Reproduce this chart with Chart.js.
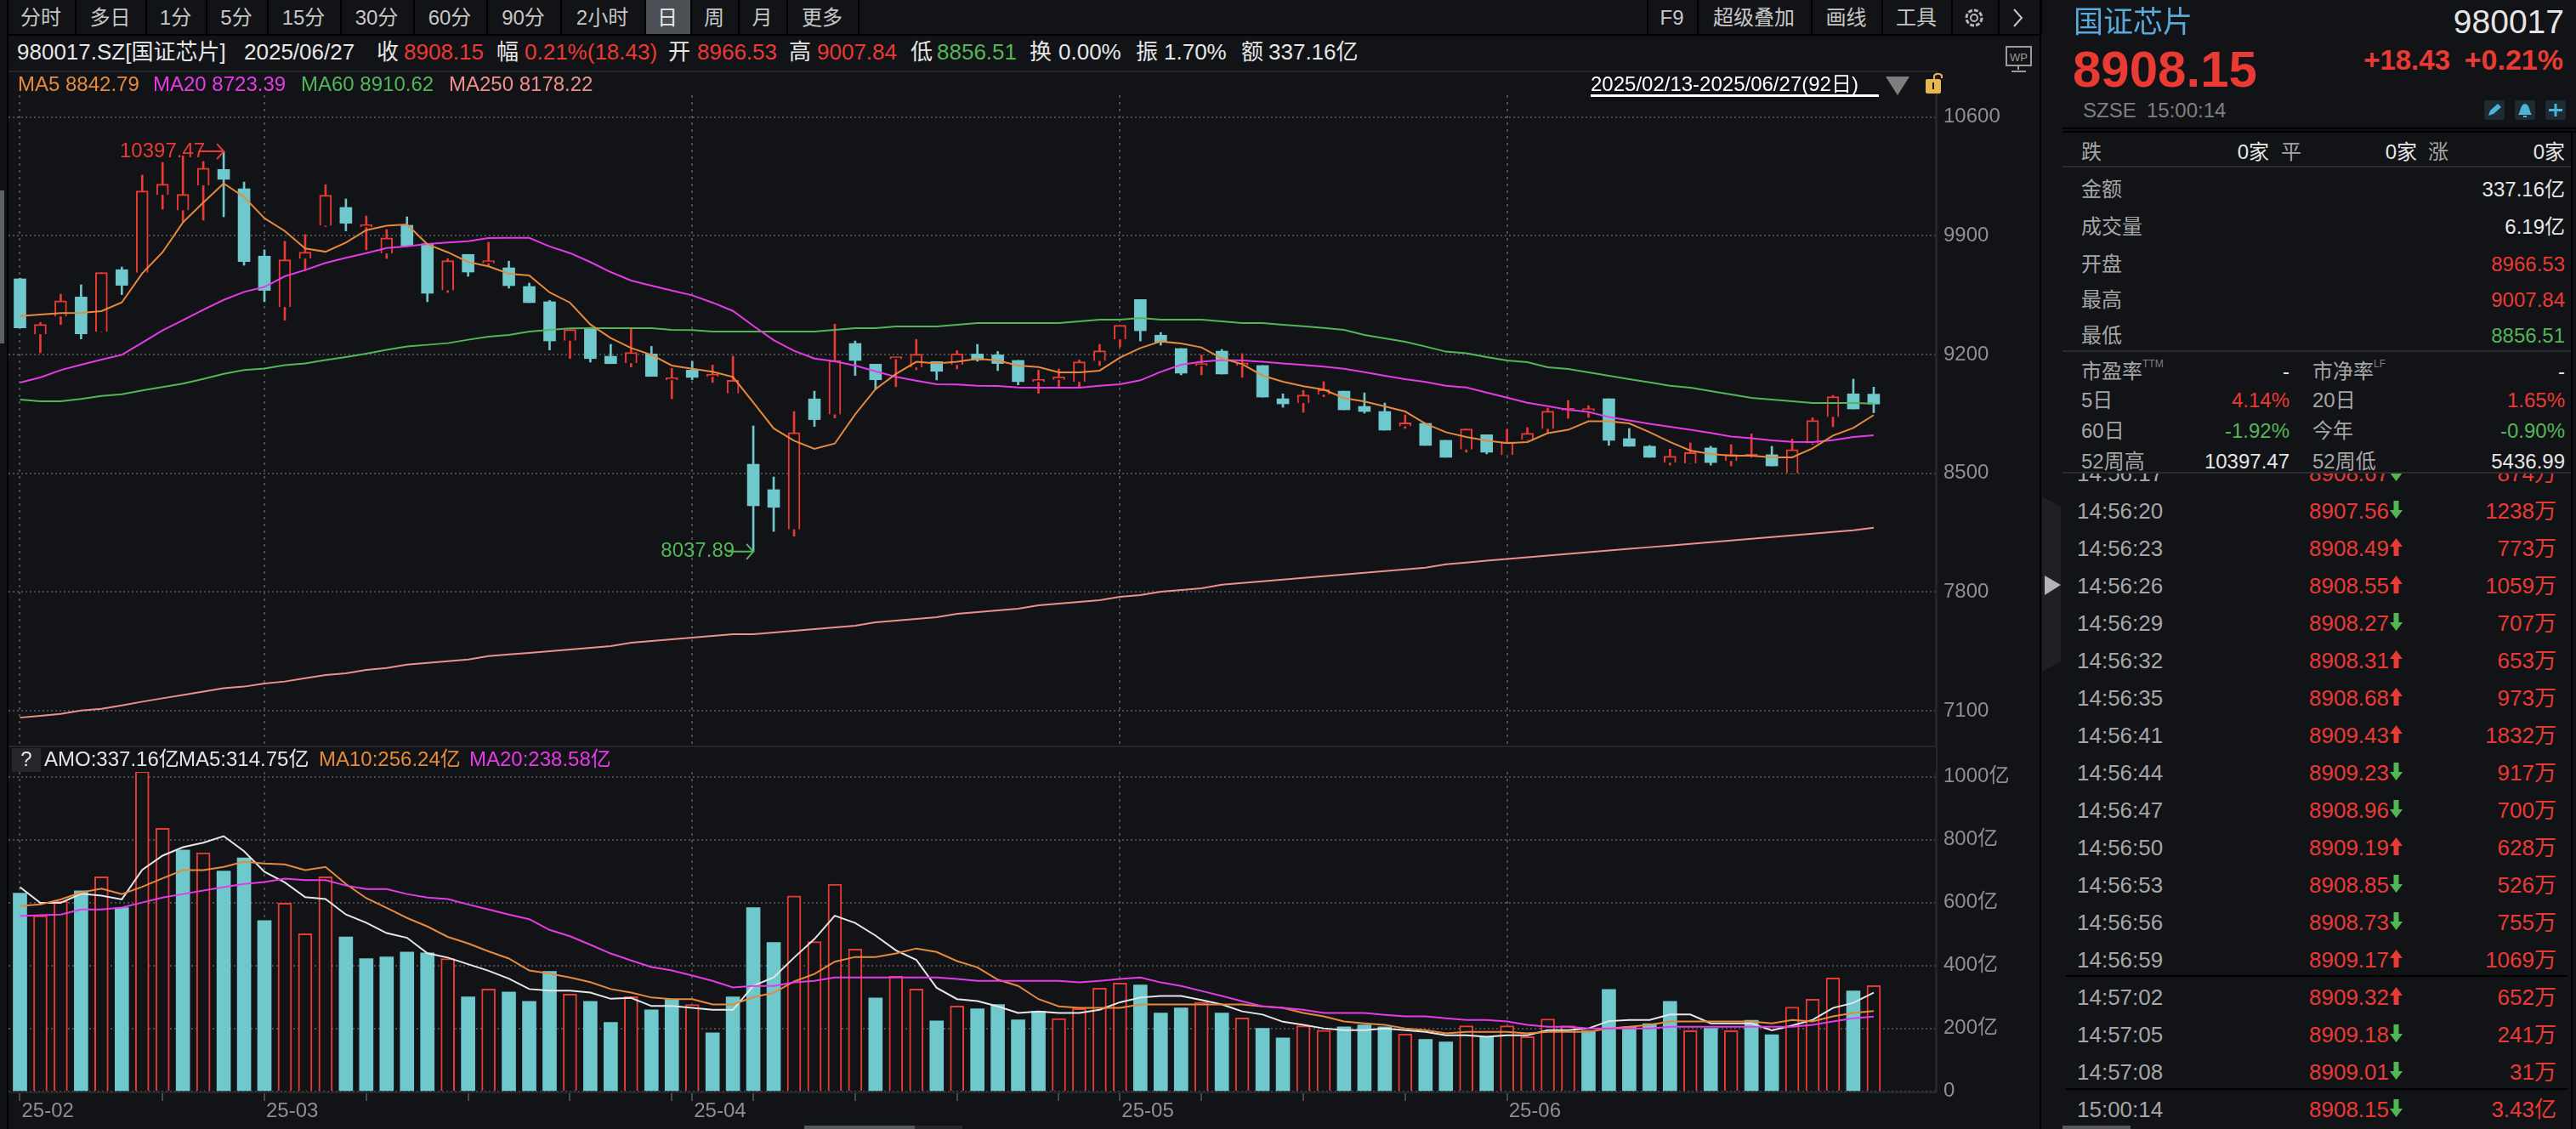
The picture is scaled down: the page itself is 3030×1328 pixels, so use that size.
<!DOCTYPE html>
<html>
<head>
<meta charset="utf-8">
<title>国证芯片</title>
<script src="https://cdn.jsdelivr.net/npm/chart.js@4/dist/chart.umd.min.js"></script>
<style>
  html, body { margin: 0; padding: 0; background: #121317; }
  #page { position: relative; width: 3030px; height: 1328px; overflow: hidden; background: #121317;
          font-family: "Liberation Sans", "Noto Sans CJK SC", sans-serif; }
  #page div.t { position: absolute; line-height: 1; white-space: nowrap; transform: translateY(-50%); }
  #page div.r { position: absolute; }
  canvas { position: absolute; left: 0; }
  svg { position: absolute; }
</style>
</head>
<body>
<div id="page">
  <canvas id="price" width="2400" height="780" style="top:100px"></canvas>
  <canvas id="volume" width="2400" height="430" style="top:900px"></canvas>
</div>
<script>
// daily candles, 2025/02/13 - 2025/06/27
const opens = [9646,9319,9424,9539,9334,9700,9683,10141,10050,10196,10291,10177,9780,9479,9765,9959,10067,9950,9795,9962,
  9853,9578,9790,9738,9711,9601,9511,9282,9355,9190,9148,9203,9048,9108,9068,8971,8553,8403,8169,8938,
  8847,9265,9143,9172,9123,9158,9138,9203,9198,9165,9038,9051,9038,9162,9289,9524,9314,9235,9132,9220,
  9135,9135,8939,8913,8963,8984,8894,8864,8776,8794,8694,8640,8727,8607,8697,8762,8868,8866,8939,8704,
  8659,8562,8557,8649,8572,8597,8609,8500,8675,8832,8968,8966.53];
const highs = [9650,9389,9556,9611,9683,9716,10258,10333,10371,10338,10397.47,10217,9817,9867,9907,10201,10117,10017,9937,10012,
  9853,9765,9790,9862,9750,9621,9519,9347,9360,9260,9352,9248,9118,9160,9138,9190,8779,8478,8864,8984,
  9379,9280,9143,9178,9289,9158,9223,9260,9218,9165,9108,9115,9168,9260,9372,9524,9330,9235,9197,9230,
  9205,9135,8968,8988,9040,8984,8974,8914,8844,8794,8694,8761,8727,8759,8769,8884,8929,8899,8939,8764,
  8664,8642,8679,8659,8669,8732,8659,8702,8827,8959,9055,9007.84];
const lows = [9355,9210,9377,9292,9334,9553,9683,10057,9979,9992,10012,9726,9511,9402,9695,9954,9929,9817,9766,9840,
  9511,9566,9661,9720,9591,9506,9227,9177,9155,9146,9126,9071,8939,9051,9035,8971,8037.89,8157,8129,8776,
  8826,9076,8993,9010,9110,9050,9115,9160,9105,9021,8971,9010,9010,9135,9245,9280,9255,9080,9080,9085,
  9065,8949,8889,8859,8951,8874,8854,8754,8764,8664,8594,8624,8614,8607,8697,8737,8824,8829,8664,8659,
  8594,8548,8557,8548,8543,8594,8543,8497,8670,8774,8879,8856.51];
const closes = [9357,9377,9517,9322,9683,9608,10164,10204,10144,10299,10233,9748,9578,9758,9803,10139,9974,9958,9887,9840,
  9561,9753,9686,9745,9606,9506,9280,9347,9176,9146,9212,9071,9053,9065,9075,9048,8308,8299,8740,8816,
  9165,9165,9051,9178,9202,9101,9205,9168,9147,9040,9045,9068,9157,9222,9372,9340,9272,9090,9138,9085,
  9142,8949,8909,8961,8993,8874,8864,8754,8797,8664,8594,8761,8624,8685,8736,8866,8874,8872,8694,8659,
  8594,8600,8622,8563,8610,8604,8543,8640,8811,8951,8879,8908.15];

const ma5 = [9427,9436,9444,9446,9456,9507,9678,9803,9979,10096,10209,10129,10004,9928,9825,9806,9860,9933,9959,9967,
  9850,9803,9745,9720,9676,9666,9566,9506,9377,9297,9238,9198,9135,9116,9098,9068,8918,8764,8692,8644,
  8675,8847,8996,9085,9157,9147,9157,9175,9165,9135,9126,9095,9095,9105,9182,9238,9277,9265,9242,9177,
  9143,9076,9040,9013,8993,8943,8923,8894,8864,8792,8742,8714,8692,8677,8684,8736,8756,8806,8806,8794,
  8742,8684,8634,8614,8604,8604,8594,8594,8647,8722,8767,8842.79];
const ma20 = [9035,9065,9108,9140,9170,9198,9269,9342,9402,9464,9522,9569,9598,9661,9698,9740,9770,9798,9828,9838,
  9852,9860,9868,9887,9888,9888,9837,9798,9745,9686,9636,9606,9577,9549,9506,9457,9369,9285,9222,9176,
  9160,9135,9101,9068,9046,9025,9023,9016,9015,9006,9005,9005,9005,9016,9025,9048,9098,9140,9157,9167,
  9165,9157,9147,9138,9128,9116,9096,9075,9055,9038,9016,9006,8976,8946,8916,8896,8874,8862,8831,8812,
  8792,8774,8756,8737,8716,8706,8694,8685,8684,8695,8714,8723.39];
const ma60 = [8934,8924,8924,8938,8956,8966,8988,9008,9028,9056,9086,9108,9117,9137,9147,9167,9185,9205,9227,9248,
  9257,9267,9287,9305,9315,9335,9345,9354,9355,9355,9355,9355,9345,9344,9335,9335,9335,9335,9335,9335,
  9345,9355,9355,9365,9365,9365,9376,9386,9386,9386,9386,9386,9396,9406,9406,9416,9406,9406,9406,9396,
  9386,9386,9376,9367,9357,9345,9315,9295,9275,9247,9217,9207,9185,9165,9155,9125,9115,9095,9075,9055,
  9036,9016,9005,8984,8964,8944,8934,8924,8914,8914,8914,8910.62];
const ma250 = [7059,7070,7081,7101,7111,7131,7153,7173,7193,7213,7232,7242,7260,7272,7292,7310,7320,7340,7352,7372,
  7382,7392,7402,7422,7432,7441,7451,7461,7471,7481,7501,7511,7521,7531,7541,7551,7551,7561,7571,7581,
  7591,7601,7621,7631,7641,7651,7671,7681,7691,7701,7721,7731,7741,7751,7771,7781,7801,7811,7821,7843,
  7853,7863,7873,7883,7893,7903,7913,7923,7933,7943,7963,7973,7984,7994,8004,8014,8024,8034,8044,8054,
  8064,8074,8084,8094,8104,8114,8124,8134,8144,8154,8164,8178.22];

// turnover, in 亿
const amo = [631,559,605,638,683,585,1018,837,768,759,701,743,544,599,502,683,492,423,428,444,
  441,423,301,326,317,287,382,310,287,220,302,260,293,277,187,301,585,474,622,477,
  659,453,298,367,326,225,272,263,277,228,255,232,264,329,345,339,250,266,284,250,
  234,201,171,209,195,206,212,206,183,166,158,209,174,209,175,231,209,194,325,206,
  216,287,194,201,194,227,181,269,294,361,320,337.16];
const amoUpDays = [1,2,4,6,7,9,13,14,15,21,23,27,30,33,38,39,40,41,43,44,46,51,52,53,54,58,60,63,64,68,71,73,74,75,76,82,84,87,88,89,91];
const amoMa5 = [650,600,600,629,623,611,705,750,777,791,812,764,699,665,618,612,563,537,504,489,
  440,426,405,384,359,326,321,321,315,295,298,272,272,266,260,260,336,363,426,485,
  559,536,496,449,419,330,294,288,271,250,255,250,250,260,284,299,304,304,291,277,
  255,245,222,212,201,195,195,201,195,190,179,179,174,179,179,195,195,201,224,228,
  228,245,245,217,217,217,195,210,228,266,282,314.75];
const amoMa10 = [590,595,611,633,645,628,651,678,704,704,714,731,725,722,704,714,660,615,584,552,
  525,492,471,446,423,385,375,363,348,326,315,299,294,294,277,277,300,314,350,374,
  413,428,428,439,455,444,415,395,356,336,294,271,266,266,266,277,277,277,277,277,
  277,271,266,250,239,223,217,212,201,195,185,190,190,190,185,190,190,190,201,206,
  212,223,223,223,223,223,217,228,223,239,250,256.24];
const amoMa20 = [558,561,563,579,579,585,601,617,628,639,650,660,666,677,672,672,655,644,644,628,
  617,612,595,579,563,548,514,494,467,439,417,396,385,369,352,331,336,336,347,352,
  363,363,363,363,363,363,358,352,352,352,352,352,347,352,358,363,347,336,320,304,
  287,271,266,260,250,250,250,244,239,239,233,228,228,223,212,206,206,201,201,201,
  201,206,206,206,206,206,206,206,212,223,233,238.58];

// axes
const priceTicks = [7100,7800,8500,9200,9900,10600];
const amoTicks = [0,200,400,600,800,1000];
const monthDays = [0,12,33,54,73];
const monthNames = ['25-02','25-03','25-04','25-05','25-06'];
const minorDays = [7,17,22,27,32,36,41,46,51,58,63,68];

// time and sales on the right
const tickTimes = ['14:56:17','14:56:20','14:56:23','14:56:26','14:56:29','14:56:32','14:56:35','14:56:41','14:56:44','14:56:47','14:56:50','14:56:53','14:56:56','14:56:59','14:57:02','14:57:05','14:57:08','15:00:14'];
const tickPrices = ['8908.67','8907.56','8908.49','8908.55','8908.27','8908.31','8908.68','8909.43','8909.23','8908.96','8909.19','8908.85','8908.73','8909.17','8909.32','8909.18','8909.01','8908.15'];
const tickDirs = [0,0,1,1,0,1,1,1,0,0,1,0,0,1,1,0,0,0];
const tickAmounts = ['874万','1238万','773万','1059万','707万','653万','973万','1832万','917万','700万','628万','526万','755万','1069万','652万','241万','31万','3.43亿'];

const BG = '#121317', RED = '#e93a33', TEAL = '#6fc8cc', GREEN = '#52b657', ORANGE = '#e58a3c',
      MAGENTA = '#e53ae6', SALMON = '#ee8f8a', WHITE = '#e6e6e6', GRID = '#4a4b50', AXIS = '#8f8f8f', LINE = '#25262a';
const FONT = '"Liberation Sans", "Noto Sans CJK SC", sans-serif';

const page = document.getElementById('page');

function text(x, y, str, color, size, opts = {}) {
  const el = document.createElement('div');
  el.className = 't';
  el.textContent = str;
  el.style.top = y + 'px';
  if (opts.right) el.style.right = (3030 - x) + 'px';
  else if (opts.center) { el.style.left = x + 'px'; el.style.transform = 'translate(-50%,-50%)'; }
  else el.style.left = x + 'px';
  el.style.color = color;
  el.style.fontSize = size + 'px';
  if (opts.bold) el.style.fontWeight = 'bold';
  (opts.parent || page).appendChild(el);
  return el;
}

function rect(x, y, w, h, color) {
  const el = document.createElement('div');
  el.className = 'r';
  el.style.cssText += `left:${x}px;top:${y}px;width:${w}px;height:${h}px;background:${color}`;
  page.appendChild(el);
  return el;
}

function svg(x, y, w, h, inner) {
  page.insertAdjacentHTML('beforeend',
    `<svg style="left:${x}px;top:${y}px" width="${w}" height="${h}" viewBox="0 0 ${w} ${h}">${inner}</svg>`);
}

const xy = values => values.map((v, i) => ({ x: i, y: v }));
const isUp = i => closes[i] >= opens[i];
const days = closes.map((c, i) => i);

const lineSet = (values, color, order) => ({
  type: 'line', data: xy(values), borderColor: color, borderWidth: 2,
  pointRadius: 0, tension: 0, order, parsing: { xAxisKey: 'x', yAxisKey: 'y' }
});

const barSet = (data, thickness, fill, border, borderWidth, order, minLen) => ({
  type: 'bar', data, barThickness: thickness, backgroundColor: fill, borderColor: border,
  borderWidth, grouped: false, order, minBarLength: minLen || 0
});

// x is a plain index scale so bars and gridlines land on the trading days
const xMin = -0.563, xMax = 94.05;

// labels outside the plot must not eat into it
const fixBox = (s, size) => {
  if (s.isHorizontal()) s.height = size; else s.width = size;
  s.paddingLeft = s.paddingRight = s.paddingTop = s.paddingBottom = 0;
};

// high and low markers on the price panel
const extremes = {
  id: 'extremes',
  afterDatasetsDraw(chart) {
    const { ctx, scales } = chart;
    const mark = (idx, value, label, color) => {
      const x = scales.x.getPixelForValue(idx);
      const y = scales.y.getPixelForValue(value);
      ctx.save();
      ctx.fillStyle = color;
      ctx.strokeStyle = color;
      ctx.lineWidth = 2;
      ctx.font = '24px ' + FONT;
      ctx.textAlign = 'right';
      ctx.textBaseline = 'middle';
      ctx.fillText(label, x - 22, y);
      ctx.beginPath();
      ctx.moveTo(x - 30, y);
      ctx.lineTo(x, y);
      ctx.moveTo(x - 8, y - 9);
      ctx.lineTo(x, y);
      ctx.lineTo(x - 8, y + 9);
      ctx.stroke();
      ctx.restore();
    };
    const hi = Math.max(...highs), lo = Math.min(...lows);
    mark(highs.indexOf(hi), hi, hi.toFixed(2), RED);
    mark(lows.indexOf(lo), lo, lo.toFixed(2), GREEN);
  }
};

new Chart(document.getElementById('price'), {
  type: 'bar',
  data: {
    datasets: [
      lineSet(ma5, ORANGE, 1),
      lineSet(ma20, MAGENTA, 2),
      lineSet(ma60, GREEN, 3),
      lineSet(ma250, SALMON, 4),
      barSet(days.filter(i => !isUp(i)).map(i => ({ x: i, y: [Math.min(opens[i], closes[i]), Math.max(opens[i], closes[i])] })), 14, TEAL, TEAL, 0, 5, 3),
      barSet(days.filter(isUp).map(i => ({ x: i, y: [opens[i], closes[i]] })), 14, BG, RED, 2, 5, 3),
      barSet(days.filter(i => !isUp(i)).map(i => ({ x: i, y: [lows[i], highs[i]] })), 2, TEAL, TEAL, 0, 6),
      barSet(days.filter(isUp).map(i => ({ x: i, y: [lows[i], highs[i]] })), 2, RED, RED, 0, 6)
    ]
  },
  options: {
    responsive: false,
    animation: false,
    layout: { padding: { left: 10, top: 12, bottom: 3, right: 0 } },
    plugins: { legend: { display: false }, tooltip: { enabled: false } },
    scales: {
      x: {
        type: 'linear', min: xMin, max: xMax, offset: false,
        afterBuildTicks: s => { s.ticks = monthDays.map(v => ({ value: v })); },
        afterFit: s => fixBox(s, 0),
        ticks: { display: false },
        border: { display: false, dash: [3, 5] },
        grid: { color: GRID, lineWidth: 2, drawTicks: false, offset: false }
      },
      y: {
        position: 'right', min: 6894.2, max: 10728.8,
        afterBuildTicks: s => { s.ticks = priceTicks.map(v => ({ value: v })); },
        afterFit: s => fixBox(s, 123),
        ticks: { color: AXIS, padding: 9, labelOffset: 0, font: { size: 24, family: FONT }, callback: v => String(v) },
        border: { color: LINE, width: 2, dash: [2, 3] },
        grid: { color: GRID, lineWidth: 2, drawTicks: false }
      }
    }
  },
  plugins: [extremes]
});

const upDay = i => amoUpDays.includes(i);

new Chart(document.getElementById('volume'), {
  type: 'bar',
  data: {
    datasets: [
      lineSet(amoMa20, MAGENTA, 1),
      lineSet(amoMa10, ORANGE, 2),
      lineSet(amoMa5, WHITE, 3),
      barSet(days.filter(i => !upDay(i)).map(i => ({ x: i, y: amo[i] })), 16, TEAL, TEAL, 0, 4),
      barSet(days.filter(upDay).map(i => ({ x: i, y: amo[i] })), 16, BG, RED, 2, 4)
    ]
  },
  options: {
    responsive: false,
    animation: false,
    layout: { padding: { left: 10, top: 8, bottom: 0, right: 0 } },
    plugins: { legend: { display: false }, tooltip: { enabled: false } },
    scales: {
      x: {
        type: 'linear', min: xMin, max: xMax, offset: false,
        afterBuildTicks: s => { s.ticks = [...monthDays, ...minorDays].sort((a, b) => a - b).map(v => ({ value: v })); },
        afterFit: s => fixBox(s, 45),
        ticks: {
          color: AXIS, padding: -2, align: 'start', labelOffset: 2, autoSkip: false, maxRotation: 0,
          font: { size: 24, family: FONT },
          callback: v => { const k = monthDays.indexOf(v); return k >= 0 ? monthNames[k] : ''; }
        },
        border: { color: LINE, width: 2, dash: [3, 5] },
        grid: {
          color: c => c.tick && monthDays.includes(c.tick.value) ? GRID : 'transparent',
          tickColor: GRID, tickWidth: 2, tickLength: 10, lineWidth: 2, offset: false
        }
      },
      y: {
        position: 'right', min: -2.7, max: 1016.2,
        afterBuildTicks: s => { s.ticks = amoTicks.map(v => ({ value: v })); },
        afterFit: s => fixBox(s, 123),
        ticks: { color: AXIS, padding: 9, labelOffset: -1, font: { size: 24, family: FONT }, callback: v => v === 0 ? '0' : v + '亿' },
        border: { color: LINE, width: 2, dash: [2, 3] },
        grid: { color: GRID, lineWidth: 2, drawTicks: false }
      }
    }
  }
});

// ---- frame lines
rect(0, 0, 8, 1328, '#101114');
rect(0, 224, 5, 180, '#5e6068');
rect(8, 0, 2, 1328, '#000');
rect(10, 83, 2268, 2, LINE);
rect(10, 877, 2268, 2, LINE);
rect(2277, 83, 2, 1202, LINE);
rect(2399, 0, 2, 1328, '#000');
rect(10, 40, 2390, 2, '#000');

// ---- toolbar
const tabEdges = [8, 88, 171, 242, 314, 400, 486, 572, 659, 758, 812, 868, 925, 1009];
const tabNames = ['分时', '多日', '1分', '5分', '15分', '30分', '60分', '90分', '2小时', '日', '周', '月', '更多'];
rect(758, 0, 54, 40, '#4c4f55');
tabNames.forEach((name, i) => {
  text((tabEdges[i] + tabEdges[i + 1]) / 2, 21, name, name === '日' ? '#e8e8e8' : '#c6c6c6', 24, { center: true });
});
tabEdges.forEach(x => rect(x, 0, 2, 40, '#000'));
const toolEdges = [1937, 1996, 2130, 2213, 2295, 2350, 2400];
['F9', '超级叠加', '画线', '工具'].forEach((name, i) => {
  text((toolEdges[i] + toolEdges[i + 1]) / 2, 21, name, '#c6c6c6', 24, { center: true });
});
toolEdges.forEach(x => rect(x, 0, 2, 40, '#000'));
svg(2308, 7, 28, 28, '<circle cx="14" cy="14" r="9" fill="none" stroke="#b8b8b8" stroke-width="3" stroke-dasharray="5 2"/><circle cx="14" cy="14" r="4" fill="none" stroke="#b8b8b8" stroke-width="2"/>');
svg(2366, 8, 16, 26, '<path d="M3 3 L12 13 L3 23" fill="none" stroke="#c6c6c6" stroke-width="2"/>');

// ---- quote line
const quoteLine = [
  [20, '980017.SZ[国证芯片]', WHITE], [287, '2025/06/27', WHITE],
  [443, '收', WHITE], [475, '8908.15', RED],
  [584, '幅', WHITE], [617, '0.21%(18.43)', RED],
  [786, '开', WHITE], [820, '8966.53', RED],
  [928, '高', WHITE], [961, '9007.84', RED],
  [1071, '低', WHITE], [1102, '8856.51', GREEN],
  [1211, '换', WHITE], [1245, '0.00%', WHITE],
  [1336, '振', WHITE], [1369, '1.70%', WHITE],
  [1460, '额', WHITE], [1492, '337.16亿', WHITE]
];
quoteLine.forEach(([x, s, c]) => text(x, 61, s, c, 26));
svg(2358, 54, 34, 32, '<rect x="2" y="1" width="29" height="22" fill="none" stroke="#9a9a9a" stroke-width="2"/><text x="16.5" y="18" fill="#9a9a9a" font-size="13" text-anchor="middle" font-family="Liberation Sans">WP</text><path d="M16 23 V28 M8 30 H25" stroke="#9a9a9a" stroke-width="2"/>');

// ---- indicator legends
[[21, 'MA5 8842.79', ORANGE], [180, 'MA20 8723.39', MAGENTA], [354, 'MA60 8910.62', GREEN], [528, 'MA250 8178.22', SALMON]]
  .forEach(([x, s, c]) => text(x, 99, s, c, 24));
text(1871, 99, '2025/02/13-2025/06/27(92日)', '#ffffff', 24);
rect(1871, 111, 339, 3, '#ffffff');
svg(2218, 90, 29, 23, '<path d="M0 0 H28 L14 22 Z" fill="#7e7e7e"/>');
svg(2262, 83, 24, 28, '<path d="M13 10 V6 a5 4 0 0 1 9 0 V9" fill="none" stroke="#e8b84f" stroke-width="2"/><rect x="3" y="10" width="18" height="17" rx="2" fill="#e8b84f"/><rect x="11" y="14" width="2" height="8" fill="#121317"/>');

// ---- volume legend
rect(14, 880, 34, 28, '#26272c');
text(31, 893, '?', WHITE, 24, { center: true });
[[52, 'AMO:337.16亿', WHITE], [210, 'MA5:314.75亿', WHITE], [375, 'MA10:256.24亿', ORANGE], [552, 'MA20:238.58亿', MAGENTA]]
  .forEach(([x, s, c]) => text(x, 893, s, c, 24));

// ---- scrollbar under the chart
rect(946, 1324, 130, 4, '#55575e');
rect(1076, 1324, 56, 4, '#26272c');

// ---- right panel
const LABEL = '#a6a6a6', DIM = '#808080';
text(2439, 25, '国证芯片', '#5aa9dc', 35);
text(3016, 25, '980017', WHITE, 39, { right: true });
text(2438, 82, '8908.15', RED, 60, { bold: true });
text(2882, 70, '+18.43', RED, 33, { right: true, bold: true });
text(3015, 70, '+0.21%', RED, 34, { right: true, bold: true });
text(2450, 130, 'SZSE', DIM, 24);
text(2525, 130, '15:00:14', DIM, 24);
[2922, 2958, 2994].forEach(x => { const b = rect(x, 118, 24, 23, '#1d2b33'); b.style.borderRadius = '3px'; });
svg(2922, 118, 24, 23, '<path d="M5 18 L7 12 L16 4 L20 8 L11 16 Z" fill="#4fb3d9"/>');
svg(2958, 118, 24, 23, '<path d="M4 17 C7 14 6 5 12 4 C18 5 17 14 20 17 Z M10 18 H14 V20 H10 Z" fill="#4fb3d9"/>');
svg(2994, 118, 24, 23, '<path d="M12 4 V19 M4 11.5 H20" stroke="#4fb3d9" stroke-width="3"/>');

rect(2426, 150, 604, 2, '#000');
rect(2426, 154, 604, 2, '#000');
text(2448, 179, '跌', LABEL, 24);
text(2669, 179, '0家', WHITE, 24, { right: true });
text(2683, 179, '平', LABEL, 24);
text(2843, 179, '0家', WHITE, 24, { right: true });
text(2856, 179, '涨', LABEL, 24);
text(3017, 179, '0家', WHITE, 24, { right: true });
rect(2426, 195, 598, 2, '#2a2b2f');

[[223, '金额', '337.16亿', WHITE], [267, '成交量', '6.19亿', WHITE], [311, '开盘', '8966.53', RED], [353, '最高', '9007.84', RED], [395, '最低', '8856.51', GREEN]]
  .forEach(([y, a, b, c]) => { text(2448, y, a, LABEL, 24); text(3017, y, b, c, 24, { right: true }); });
rect(2426, 412, 598, 2, '#2a2b2f');

text(2448, 437, '市盈率', LABEL, 24);
text(2520, 428, 'TTM', DIM, 12);
text(2693, 437, '-', WHITE, 24, { right: true });
text(2720, 437, '市净率', LABEL, 24);
text(2792, 428, 'LF', DIM, 12);
text(3017, 437, '-', WHITE, 24, { right: true });
[[471, '5日', '4.14%', RED, '20日', '1.65%', RED], [507, '60日', '-1.92%', GREEN, '今年', '-0.90%', GREEN], [543, '52周高', '10397.47', WHITE, '52周低', '5436.99', WHITE]]
  .forEach(([y, a, b, c, d, e, f]) => {
    text(2448, y, a, LABEL, 24);
    text(2693, y, b, c, 24, { right: true });
    text(2720, y, d, LABEL, 24);
    text(3017, y, e, f, 24, { right: true });
  });
rect(2426, 555, 598, 2, '#2a2b2f');

// trade list, the first row is cut off by the block above it
const list = document.createElement('div');
list.className = 'r';
list.style.cssText += 'left:2426px;top:557px;width:604px;height:771px;overflow:hidden';
page.appendChild(list);
const UP_ARROW = 'M7.5 0 L15 10 H10.5 V21 H4.5 V10 H0 Z';
const DOWN_ARROW = 'M7.5 21 L15 11 H10.5 V0 H4.5 V11 H0 Z';
tickTimes.forEach((time, i) => {
  const y = -0.4 + 44 * i;
  text(17, y, time, LABEL, 26, { parent: list });
  text(290, y, tickPrices[i], RED, 26, { parent: list });
  const amount = text(0, y, tickAmounts[i], RED, 26, { parent: list });
  amount.style.left = 'auto';
  amount.style.right = (604 - 581) + 'px';
  list.insertAdjacentHTML('beforeend',
    `<svg style="left:385px;top:${y - 12}px" width="15" height="21" viewBox="0 0 15 21"><path d="${tickDirs[i] ? UP_ARROW : DOWN_ARROW}" fill="${tickDirs[i] ? RED : GREEN}"/></svg>`);
});
rect(2430, 1147, 590, 2, '#000');
rect(2430, 1280, 590, 2, '#000');
rect(2426, 1324, 80, 4, '#55575e');
rect(3024, 155, 2, 1173, '#000');

// collapse handle between chart and panel
svg(2401, 578, 24, 218, '<path d="M1 6 L23 18 V200 L1 212 Z" fill="#1f2024"/><path d="M4 99 L23 110 L4 122 Z" fill="#b5b5b5"/>');
</script>
</body>
</html>
